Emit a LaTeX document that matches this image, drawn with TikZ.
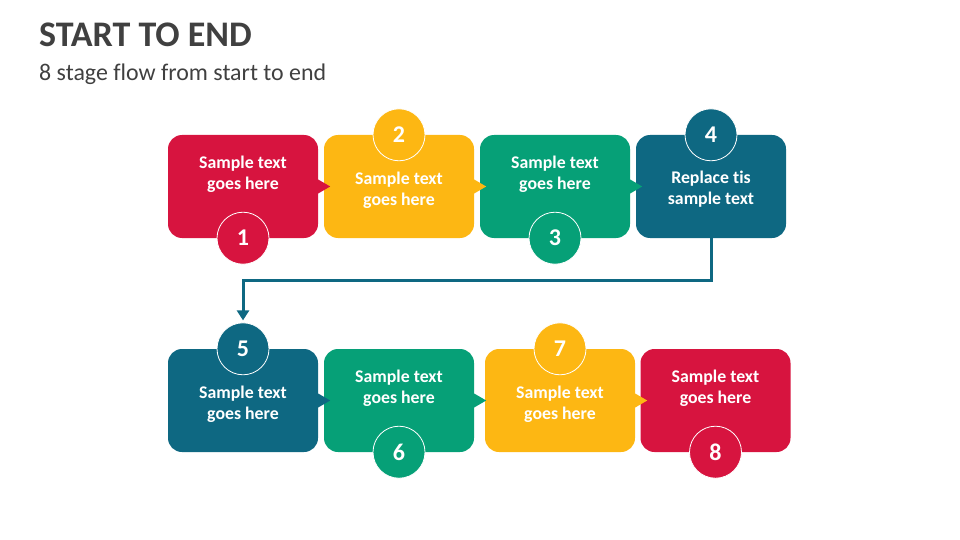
\documentclass[tikz,border=0pt]{standalone}
\usepackage{fontspec}
\setmainfont[Ligatures=NoCommon]{Carlito}
\usetikzlibrary{arrows.meta}

\definecolor{stagered}{HTML}{D7143F}
\definecolor{stageyellow}{HTML}{FDB713}
\definecolor{stagegreen}{HTML}{06A077}
\definecolor{stageteal}{HTML}{0E6882}
\definecolor{titlegray}{HTML}{404040}

\begin{document}
\begin{tikzpicture}[x=1pt,y=-1pt,
    stagebox/.style={rounded corners=14pt, minimum width=150pt, minimum height=103pt, inner sep=0pt},
    stagenum/.style={circle, draw=white, line width=0.8pt, minimum size=52pt, inner sep=0pt,
        text=white, font=\fontsize{24}{26}\selectfont\bfseries},
    stagetext/.style={text=white, align=center, font=\fontsize{17.8}{21}\selectfont\bfseries}]
    \useasboundingbox (0,0) rectangle (960,540);

    % Title
    \node[anchor=base west, inner sep=0pt, text=titlegray, font=\fontsize{36}{40}\selectfont\bfseries] (title) at (39,47) {START TO END};
    \node[anchor=base west, inner sep=0pt, text=titlegray, font=\fontsize{23.9}{26}\selectfont] (subtitle) at (39,81) {8 stage flow from start to end};

    % Stage boxes
    \foreach \i/\x/\y/\col in {1/243/186.5/stagered, 2/399/186.5/stageyellow, 3/555/186.5/stagegreen, 4/711/186.5/stageteal,
                               5/243/400.5/stageteal, 6/399/400.5/stagegreen, 7/560/400.5/stageyellow, 8/715.5/400.5/stagered} {
        \node[stagebox, fill=\col] (box\i) at (\x,\y) {};
    }

    % Pointers
    \foreach \i/\col in {1/stagered, 2/stageyellow, 3/stagegreen, 5/stageteal, 6/stagegreen, 7/stageyellow} {
        \fill[\col] ([yshift=7pt]box\i.east) -- ([xshift=12pt]box\i.east) -- ([yshift=-7pt]box\i.east) -- cycle;
    }

    % Texts
    \foreach \i/\s/\txt in {1/12/{Sample text\\goes here}, 2/-4/{Sample text\\goes here}, 3/12/{Sample text\\goes here},
                            4/-3/{Replace tis\\sample text}, 5/-4/{Sample text\\goes here}, 6/12/{Sample text\\goes here},
                            7/-4/{Sample text\\goes here}, 8/12/{Sample text\\goes here}} {
        \node[stagetext, yshift=\s pt] (txt\i) at (box\i.center) {\txt};
    }

    % Numbers
    \foreach \i/\a/\col in {1/south/stagered, 2/north/stageyellow, 3/south/stagegreen, 4/north/stageteal,
                            5/north/stageteal, 6/south/stagegreen, 7/north/stageyellow, 8/south/stagered} {
        \node[stagenum, fill=\col] (num\i) at (box\i.\a) {\i};
    }

    % Connector
    \coordinate (turn) at (0,280);
    \draw[stageteal, line width=3pt, -{Triangle[length=10pt, width=12pt]}, shorten >=2pt]
        (box4.south) |- (turn -| num5.north) -- (num5.north);
\end{tikzpicture}
\end{document}
